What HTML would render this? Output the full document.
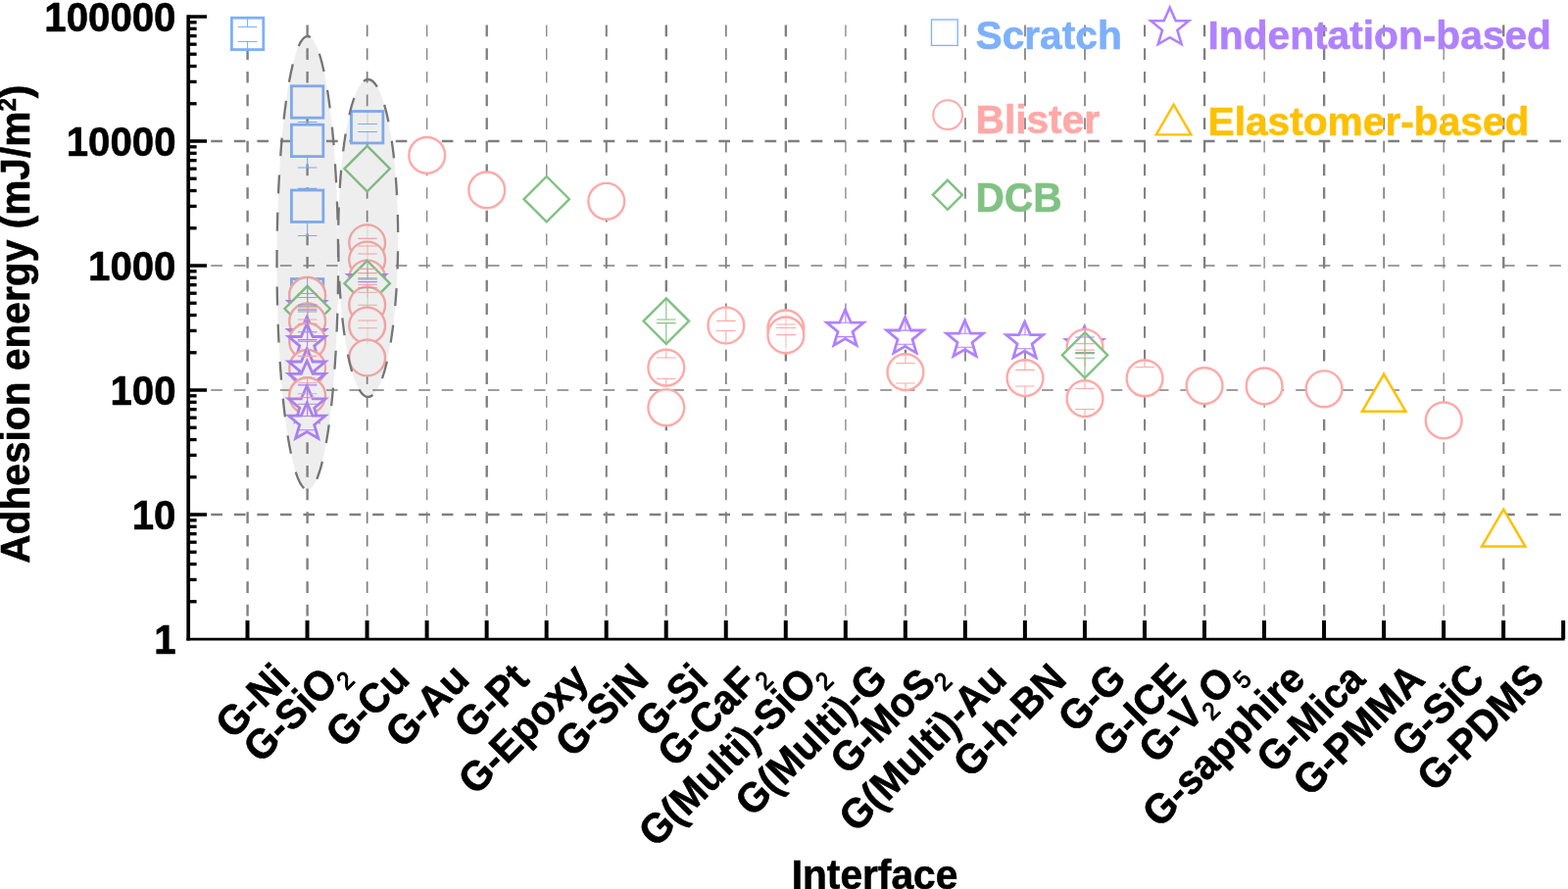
<!DOCTYPE html>
<html lang="en"><head><meta charset="utf-8"><title>Adhesion energy by interface</title>
<style>html,body{margin:0;padding:0;background:#fff}svg{display:block}</style></head>
<body>
<svg width="1600" height="907" viewBox="0 0 1600 907">
<rect width="1600" height="907" fill="#fff"/>
<g stroke="#7f7f7f" fill="none">
<path d="M252.60 25.6V652.0" stroke-dasharray="11.7 11.95" stroke-width="2.35"/>
<path d="M313.63 25.6V652.0" stroke-dasharray="11.7 11.95" stroke-width="2.35"/>
<path d="M374.66 25.6V652.0" stroke-dasharray="11.7 11.95" stroke-width="1.7"/>
<path d="M435.69 25.6V652.0" stroke-dasharray="11.7 11.95" stroke-width="1.25"/>
<path d="M496.72 25.6V652.0" stroke-dasharray="11.7 11.95" stroke-width="2.35"/>
<path d="M557.75 25.6V652.0" stroke-dasharray="11.7 11.95" stroke-width="1.25"/>
<path d="M618.78 25.6V652.0" stroke-dasharray="11.7 11.95" stroke-width="2.0"/>
<path d="M679.81 25.6V652.0" stroke-dasharray="11.7 11.95" stroke-width="2.35"/>
<path d="M740.84 25.6V652.0" stroke-dasharray="11.7 11.95" stroke-width="1.7"/>
<path d="M801.87 25.6V652.0" stroke-dasharray="11.7 11.95" stroke-width="2.35"/>
<path d="M862.90 25.6V652.0" stroke-dasharray="11.7 11.95" stroke-width="1.25"/>
<path d="M923.93 25.6V652.0" stroke-dasharray="11.7 11.95" stroke-width="2.35"/>
<path d="M984.96 25.6V652.0" stroke-dasharray="11.7 11.95" stroke-width="1.7"/>
<path d="M1045.99 25.6V652.0" stroke-dasharray="11.7 11.95" stroke-width="1.7"/>
<path d="M1107.02 25.6V652.0" stroke-dasharray="11.7 11.95" stroke-width="1.7"/>
<path d="M1168.05 25.6V652.0" stroke-dasharray="11.7 11.95" stroke-width="2.0"/>
<path d="M1229.08 25.6V652.0" stroke-dasharray="11.7 11.95" stroke-width="2.35"/>
<path d="M1290.11 25.6V652.0" stroke-dasharray="11.7 11.95" stroke-width="1.25"/>
<path d="M1351.14 25.6V652.0" stroke-dasharray="11.7 11.95" stroke-width="2.35"/>
<path d="M1412.17 25.6V652.0" stroke-dasharray="11.7 11.95" stroke-width="1.7"/>
<path d="M1473.20 25.6V652.0" stroke-dasharray="11.7 11.95" stroke-width="1.25"/>
<path d="M1534.23 25.6V652.0" stroke-dasharray="11.7 11.95" stroke-width="2.35"/>
<path d="M191.7 144.0H1594" stroke-dasharray="11.7 11.85" stroke-width="2.3"/>
<path d="M191.7 271.0H1594" stroke-dasharray="11.7 11.85" stroke-width="1.5"/>
<path d="M191.7 398.0H1594" stroke-dasharray="11.7 11.85" stroke-width="1.6"/>
<path d="M191.7 525.0H1594" stroke-dasharray="11.7 11.85" stroke-width="2.4"/>
</g>
<g stroke-linejoin="miter">
<rect x="236.40" y="18.20" width="32.40" height="32.40" fill="#fff" stroke="#7db0fd" stroke-width="2.8"/>
<rect x="297.43" y="87.80" width="32.40" height="32.40" fill="#fff" stroke="#7db0fd" stroke-width="2.8"/>
<rect x="358.46" y="113.55" width="32.40" height="32.40" fill="#fff" stroke="#7db0fd" stroke-width="2.8"/>
<rect x="297.43" y="127.20" width="32.40" height="32.40" fill="#fff" stroke="#7db0fd" stroke-width="2.8"/>
<circle cx="435.69" cy="158.40" r="18.4" fill="#fff" stroke="#ffa9a7" stroke-width="2.4"/>
<path d="M374.66 148.90L397.86 172.10L374.66 195.30L351.46 172.10Z" fill="#fff" stroke="#80c282" stroke-width="2.4"/>
<circle cx="496.72" cy="193.90" r="18.4" fill="#fff" stroke="#ffa9a7" stroke-width="2.4"/>
<path d="M557.75 180.00L580.95 203.20L557.75 226.40L534.55 203.20Z" fill="#fff" stroke="#80c282" stroke-width="2.4"/>
<circle cx="618.78" cy="205.30" r="18.4" fill="#fff" stroke="#ffa9a7" stroke-width="2.4"/>
<rect x="297.43" y="194.05" width="32.40" height="32.40" fill="#fff" stroke="#7db0fd" stroke-width="2.8"/>
<circle cx="374.66" cy="247.75" r="18.4" fill="#fff" stroke="#ffa9a7" stroke-width="2.4"/>
<circle cx="374.66" cy="265.00" r="18.4" fill="#fff" stroke="#ffa9a7" stroke-width="2.4"/>
<circle cx="374.66" cy="284.00" r="18.4" fill="#fff" stroke="#ffa9a7" stroke-width="2.4"/>
<path d="M374.26 267.20L380.16 280.40L393.06 280.40L381.76 289.70L385.86 303.50L374.26 296.80L362.66 303.50L366.76 289.70L355.46 280.40L368.36 280.40Z" fill="#fff" stroke="#b081ff" stroke-width="2.8" stroke-miterlimit="10"/>
<path d="M374.66 266.00L397.86 289.20L374.66 312.40L351.46 289.20Z" fill="#fff" stroke="#80c282" stroke-width="2.4"/>
<rect x="297.43" y="284.55" width="32.40" height="32.40" fill="#fff" stroke="#7db0fd" stroke-width="2.8"/>
<circle cx="313.63" cy="301.40" r="18.4" fill="#fff" stroke="#ffa9a7" stroke-width="2.4"/>
<circle cx="313.63" cy="301.40" r="18.4" fill="#fff" stroke="#ffa9a7" stroke-width="2.4"/>
<circle cx="374.66" cy="311.10" r="18.4" fill="#fff" stroke="#ffa9a7" stroke-width="2.4"/>
<path d="M313.23 294.10L319.13 307.30L332.03 307.30L320.73 316.60L324.83 330.40L313.23 323.70L301.63 330.40L305.73 316.60L294.43 307.30L307.33 307.30Z" fill="#fff" stroke="#b081ff" stroke-width="2.8" stroke-miterlimit="10"/>
<path d="M313.63 291.80L336.83 315.00L313.63 338.20L290.43 315.00Z" fill="#fff" stroke="#80c282" stroke-width="2.4"/>
<path d="M679.81 304.40L703.01 327.60L679.81 350.80L656.61 327.60Z" fill="#fff" stroke="#80c282" stroke-width="2.4"/>
<circle cx="313.63" cy="327.90" r="18.4" fill="#fff" stroke="#ffa9a7" stroke-width="2.4"/>
<circle cx="374.66" cy="332.00" r="18.4" fill="#fff" stroke="#ffa9a7" stroke-width="2.4"/>
<circle cx="740.84" cy="332.00" r="18.4" fill="#fff" stroke="#ffa9a7" stroke-width="2.4"/>
<circle cx="801.87" cy="334.90" r="18.4" fill="#fff" stroke="#ffa9a7" stroke-width="2.4"/>
<path d="M862.50 316.00L868.40 329.20L881.30 329.20L870.00 338.50L874.10 352.30L862.50 345.60L850.90 352.30L855.00 338.50L843.70 329.20L856.60 329.20Z" fill="#fff" stroke="#b081ff" stroke-width="2.8" stroke-miterlimit="10"/>
<circle cx="801.87" cy="341.90" r="18.4" fill="#fff" stroke="#ffa9a7" stroke-width="2.4"/>
<path d="M313.23 323.30L319.13 336.50L332.03 336.50L320.73 345.80L324.83 359.60L313.23 352.90L301.63 359.60L305.73 345.80L294.43 336.50L307.33 336.50Z" fill="#fff" stroke="#b081ff" stroke-width="2.8" stroke-miterlimit="10"/>
<path d="M923.53 323.80L929.43 337.00L942.33 337.00L931.03 346.30L935.13 360.10L923.53 353.40L911.93 360.10L916.03 346.30L904.73 337.00L917.63 337.00Z" fill="#fff" stroke="#b081ff" stroke-width="2.8" stroke-miterlimit="10"/>
<path d="M984.56 327.00L990.46 340.20L1003.36 340.20L992.06 349.50L996.16 363.30L984.56 356.60L972.96 363.30L977.06 349.50L965.76 340.20L978.66 340.20Z" fill="#fff" stroke="#b081ff" stroke-width="2.8" stroke-miterlimit="10"/>
<circle cx="313.63" cy="348.20" r="18.4" fill="#fff" stroke="#ffa9a7" stroke-width="2.4"/>
<path d="M1045.59 328.40L1051.49 341.60L1064.39 341.60L1053.09 350.90L1057.19 364.70L1045.59 358.00L1033.99 364.70L1038.09 350.90L1026.79 341.60L1039.69 341.60Z" fill="#fff" stroke="#b081ff" stroke-width="2.8" stroke-miterlimit="10"/>
<path d="M313.23 330.30L319.13 343.50L332.03 343.50L320.73 352.80L324.83 366.60L313.23 359.90L301.63 366.60L305.73 352.80L294.43 343.50L307.33 343.50Z" fill="#fff" stroke="#b081ff" stroke-width="2.8" stroke-miterlimit="10"/>
<path d="M1106.62 333.20L1112.52 346.40L1125.42 346.40L1114.12 355.70L1118.22 369.50L1106.62 362.80L1095.02 369.50L1099.12 355.70L1087.82 346.40L1100.72 346.40Z" fill="#fff" stroke="#b081ff" stroke-width="2.8" stroke-miterlimit="10"/>
<circle cx="1107.02" cy="354.50" r="18.4" fill="#fff" stroke="#ffa9a7" stroke-width="2.4"/>
<path d="M1107.02 339.10L1130.22 362.30L1107.02 385.50L1083.82 362.30Z" fill="#fff" stroke="#80c282" stroke-width="2.4"/>
<circle cx="374.66" cy="365.00" r="18.4" fill="#fff" stroke="#ffa9a7" stroke-width="2.4"/>
<circle cx="679.81" cy="375.10" r="18.4" fill="#fff" stroke="#ffa9a7" stroke-width="2.4"/>
<circle cx="313.63" cy="375.40" r="18.4" fill="#fff" stroke="#ffa9a7" stroke-width="2.4"/>
<path d="M313.23 355.80L319.13 369.00L332.03 369.00L320.73 378.30L324.83 392.10L313.23 385.40L301.63 392.10L305.73 378.30L294.43 369.00L307.33 369.00Z" fill="#fff" stroke="#b081ff" stroke-width="2.8" stroke-miterlimit="10"/>
<circle cx="923.93" cy="379.70" r="18.4" fill="#fff" stroke="#ffa9a7" stroke-width="2.4"/>
<circle cx="1045.99" cy="385.70" r="18.4" fill="#fff" stroke="#ffa9a7" stroke-width="2.4"/>
<circle cx="1168.05" cy="385.90" r="18.4" fill="#fff" stroke="#ffa9a7" stroke-width="2.4"/>
<path d="M313.23 368.10L319.13 381.30L332.03 381.30L320.73 390.60L324.83 404.40L313.23 397.70L301.63 404.40L305.73 390.60L294.43 381.30L307.33 381.30Z" fill="#fff" stroke="#b081ff" stroke-width="2.8" stroke-miterlimit="10"/>
<circle cx="1229.08" cy="393.60" r="18.4" fill="#fff" stroke="#ffa9a7" stroke-width="2.4"/>
<circle cx="1290.11" cy="393.90" r="18.4" fill="#fff" stroke="#ffa9a7" stroke-width="2.4"/>
<circle cx="1351.14" cy="396.80" r="18.4" fill="#fff" stroke="#ffa9a7" stroke-width="2.4"/>
<path d="M1412.17 381.80L1434.37 419.70L1389.97 419.70Z" fill="#fff" stroke="#ffc000" stroke-width="2.5" stroke-miterlimit="10"/>
<circle cx="313.63" cy="403.60" r="18.4" fill="#fff" stroke="#ffa9a7" stroke-width="2.4"/>
<circle cx="1107.02" cy="406.70" r="18.4" fill="#fff" stroke="#ffa9a7" stroke-width="2.4"/>
<path d="M313.23 393.70L319.13 406.90L332.03 406.90L320.73 416.20L324.83 430.00L313.23 423.30L301.63 430.00L305.73 416.20L294.43 406.90L307.33 406.90Z" fill="#fff" stroke="#b081ff" stroke-width="2.8" stroke-miterlimit="10"/>
<circle cx="679.81" cy="415.80" r="18.4" fill="#fff" stroke="#ffa9a7" stroke-width="2.4"/>
<circle cx="1473.20" cy="428.90" r="18.4" fill="#fff" stroke="#ffa9a7" stroke-width="2.4"/>
<path d="M313.23 411.00L319.13 424.20L332.03 424.20L320.73 433.50L324.83 447.30L313.23 440.60L301.63 447.30L305.73 433.50L294.43 424.20L307.33 424.20Z" fill="#fff" stroke="#b081ff" stroke-width="2.8" stroke-miterlimit="10"/>
<path d="M1534.23 519.60L1556.43 557.50L1512.03 557.50Z" fill="#fff" stroke="#ffc000" stroke-width="2.5" stroke-miterlimit="10"/>
</g>
<g fill="none" stroke-width="1.1">
<path d="M252.60 27.50V16.80M252.60 42.50V52.00M242.80 27.50H262.40M242.80 42.50H262.40" stroke="#7db0fd"/>
<path d="M375.00 126.50V112.15M375.00 134.50V147.35" stroke="#7db0fd" stroke-opacity="0.45"/><path d="M365.20 126.50H384.80M365.20 134.50H384.80" stroke="#7db0fd"/>
<path d="M313.63 124.50V125.80M313.63 171.00V161.00M303.83 124.50H323.43M303.83 171.00H323.43" stroke="#7db0fd"/>
<path d="M313.63 192.40V192.65M313.63 240.50V227.85M303.83 192.40H323.43M303.83 240.50H323.43" stroke="#7db0fd"/>
<path d="M375.00 243.40V228.15M375.00 251.00V267.35" stroke="#ffa9a7" stroke-opacity="0.45"/><path d="M365.20 243.40H384.80M365.20 251.00H384.80" stroke="#ffa9a7"/>
<path d="M375.00 259.00V245.40M375.00 274.40V284.60" stroke="#ffa9a7" stroke-opacity="0.45"/><path d="M365.20 259.00H384.80M365.20 274.40H384.80" stroke="#ffa9a7"/>
<path d="M375.00 278.60V264.40M375.00 290.50V303.60" stroke="#ffa9a7" stroke-opacity="0.45"/><path d="M365.20 278.60H384.80M365.20 290.50H384.80" stroke="#ffa9a7"/>
<path d="M375.00 285.00V265.20M375.00 287.60V296.80" stroke="#b081ff" stroke-opacity="0.45"/><path d="M365.20 285.00H384.80M365.20 287.60H384.80" stroke="#b081ff"/>
<path d="M375.00 283.70V264.60M375.00 293.80V313.80" stroke="#80c282" stroke-opacity="0.45"/><path d="M365.20 283.70H384.80M365.20 293.80H384.80" stroke="#80c282"/>
<path d="M313.63 299.50V283.15M313.63 303.50V318.35M303.83 299.50H323.43M303.83 303.50H323.43" stroke="#7db0fd"/>
<path d="M313.63 313.70V321.00M303.83 313.70H323.43" stroke="#ffa9a7"/>
<path d="M313.63 315.30V321.00M303.83 315.30H323.43" stroke="#ffa9a7"/>
<path d="M375.00 298.20V291.50M375.00 327.00V330.70" stroke="#ffa9a7" stroke-opacity="0.45"/><path d="M365.20 298.20H384.80M365.20 327.00H384.80" stroke="#ffa9a7"/>
<path d="M313.63 311.00V292.10M313.63 316.30V323.70M303.83 311.00H323.43M303.83 316.30H323.43" stroke="#b081ff"/>
<path d="M313.63 312.30V290.40M313.63 318.00V339.60M303.83 312.30H323.43M303.83 318.00H323.43" stroke="#80c282"/>
<path d="M679.81 326.00V303.00M679.81 329.60V352.20M670.01 326.00H689.61M670.01 329.60H689.61" stroke="#80c282"/>
<path d="M313.63 326.00V308.30M313.63 330.40V347.50M303.83 326.00H323.43M303.83 330.40H323.43" stroke="#ffa9a7"/>
<path d="M375.00 311.20V312.40M375.00 334.80V351.60" stroke="#ffa9a7" stroke-opacity="0.45"/><path d="M365.20 311.20H384.80M365.20 334.80H384.80" stroke="#ffa9a7"/>
<path d="M740.84 327.40V312.40M740.84 337.50V351.60M731.04 327.40H750.64M731.04 337.50H750.64" stroke="#ffa9a7"/>
<path d="M802.00 331.00V315.30M802.00 334.50V354.50" stroke="#ffa9a7" stroke-opacity="0.45"/><path d="M792.20 331.00H811.80M792.20 334.50H811.80" stroke="#ffa9a7"/>
<path d="M862.90 329.30V314.00M862.90 343.60V345.60M853.10 329.30H872.70M853.10 343.60H872.70" stroke="#b081ff"/>
<path d="M802.00 334.50V322.30M802.00 341.60V361.50" stroke="#ffa9a7" stroke-opacity="0.45"/><path d="M792.20 334.50H811.80M792.20 341.60H811.80" stroke="#ffa9a7"/>
<path d="M313.63 338.80V321.30M313.63 348.20V352.90M303.83 338.80H323.43M303.83 348.20H323.43" stroke="#b081ff"/>
<path d="M923.93 337.10V321.80M923.93 351.20V353.40M914.13 337.10H933.73M914.13 351.20H933.73" stroke="#b081ff"/>
<path d="M984.96 340.30V325.00M984.96 354.20V356.60M975.16 340.30H994.76M975.16 354.20H994.76" stroke="#b081ff"/>
<path d="M1045.99 341.70V326.40M1045.99 355.80V358.00M1036.19 341.70H1055.79M1036.19 355.80H1055.79" stroke="#b081ff"/>
<path d="M313.63 346.60V328.30M303.83 346.60H323.43" stroke="#b081ff"/>
<path d="M1107.02 344.00V331.20M1107.02 360.60V362.80M1097.22 344.00H1116.82M1097.22 360.60H1116.82" stroke="#b081ff"/>
<path d="M1107.02 350.60V334.90M1107.02 357.10V374.10M1097.22 350.60H1116.82M1097.22 357.10H1116.82" stroke="#ffa9a7"/>
<path d="M1107.02 359.60V337.70M1107.02 365.20V386.90M1097.22 359.60H1116.82M1097.22 365.20H1116.82" stroke="#80c282"/>
<path d="M679.81 365.00V355.50M679.81 386.50V394.70M670.01 365.00H689.61M670.01 386.50H689.61" stroke="#ffa9a7"/>
<path d="M313.63 363.40V355.80M313.63 390.80V395.00M303.83 363.40H323.43M303.83 390.80H323.43" stroke="#ffa9a7"/>
<path d="M923.93 370.50V360.10M923.93 391.00V399.30M914.13 370.50H933.73M914.13 391.00H933.73" stroke="#ffa9a7"/>
<path d="M1045.99 377.40V366.10M1045.99 394.00V405.30M1036.19 377.40H1055.79M1036.19 394.00H1055.79" stroke="#ffa9a7"/>
<path d="M1168.05 374.50V366.30M1168.05 403.30V405.50M1158.25 374.50H1177.85M1158.25 403.30H1177.85" stroke="#ffa9a7"/>
<path d="M313.63 392.90V397.70M303.83 392.90H323.43" stroke="#b081ff"/>
<path d="M313.63 401.70V384.00M313.63 405.60V423.20M303.83 401.70H323.43M303.83 405.60H323.43" stroke="#ffa9a7"/>
<path d="M1107.02 396.50V387.10M1107.02 417.50V426.30M1097.22 396.50H1116.82M1097.22 417.50H1116.82" stroke="#ffa9a7"/>
<path d="M313.63 412.30V391.70M303.83 412.30H323.43" stroke="#b081ff"/>
<path d="M313.63 424.50V409.00M313.63 438.80V440.60M303.83 424.50H323.43M303.83 438.80H323.43" stroke="#b081ff"/>
</g>
<g fill="rgba(128,128,128,0.135)" stroke="#757575" stroke-width="2.3">
<path d="M313.83 37.00A31.3 231.3 0 0 1 313.83 499.60A31.3 231.3 0 0 1 313.83 37.00Z" stroke-dasharray="18.8 19.22" stroke-dashoffset="15.5"/>
<path d="M375.66 81.00A30.5 162 0 0 1 375.66 405.00A30.5 162 0 0 1 375.66 81.00Z" stroke-dasharray="18.0 19.64" stroke-dashoffset="5.4"/>
</g>
<g stroke="#000" fill="none">
<path d="M192.2 15.2V653.6" stroke-width="3.7"/>
<path d="M190.39999999999998 652.15H1596.6" stroke-width="2.8"/>
<path d="M192.2 17.00H211" stroke-width="3.5"/>
<path d="M192.2 105.77H200.6" stroke-width="3.3"/>
<path d="M192.2 83.41H200.6" stroke-width="3.3"/>
<path d="M192.2 67.54H200.6" stroke-width="3.3"/>
<path d="M192.2 55.23H200.6" stroke-width="3.3"/>
<path d="M192.2 45.17H200.6" stroke-width="3.3"/>
<path d="M192.2 36.67H200.6" stroke-width="3.3"/>
<path d="M192.2 29.31H200.6" stroke-width="3.3"/>
<path d="M192.2 22.81H200.6" stroke-width="3.3"/>
<path d="M192.2 144.00H211" stroke-width="3.5"/>
<path d="M192.2 232.77H200.6" stroke-width="3.3"/>
<path d="M192.2 210.41H200.6" stroke-width="3.3"/>
<path d="M192.2 194.54H200.6" stroke-width="3.3"/>
<path d="M192.2 182.23H200.6" stroke-width="3.3"/>
<path d="M192.2 172.17H200.6" stroke-width="3.3"/>
<path d="M192.2 163.67H200.6" stroke-width="3.3"/>
<path d="M192.2 156.31H200.6" stroke-width="3.3"/>
<path d="M192.2 149.81H200.6" stroke-width="3.3"/>
<path d="M192.2 271.00H211" stroke-width="3.5"/>
<path d="M192.2 359.77H200.6" stroke-width="3.3"/>
<path d="M192.2 337.41H200.6" stroke-width="3.3"/>
<path d="M192.2 321.54H200.6" stroke-width="3.3"/>
<path d="M192.2 309.23H200.6" stroke-width="3.3"/>
<path d="M192.2 299.17H200.6" stroke-width="3.3"/>
<path d="M192.2 290.67H200.6" stroke-width="3.3"/>
<path d="M192.2 283.31H200.6" stroke-width="3.3"/>
<path d="M192.2 276.81H200.6" stroke-width="3.3"/>
<path d="M192.2 398.00H211" stroke-width="3.5"/>
<path d="M192.2 486.77H200.6" stroke-width="3.3"/>
<path d="M192.2 464.41H200.6" stroke-width="3.3"/>
<path d="M192.2 448.54H200.6" stroke-width="3.3"/>
<path d="M192.2 436.23H200.6" stroke-width="3.3"/>
<path d="M192.2 426.17H200.6" stroke-width="3.3"/>
<path d="M192.2 417.67H200.6" stroke-width="3.3"/>
<path d="M192.2 410.31H200.6" stroke-width="3.3"/>
<path d="M192.2 403.81H200.6" stroke-width="3.3"/>
<path d="M192.2 525.00H211" stroke-width="3.5"/>
<path d="M192.2 613.77H200.6" stroke-width="3.3"/>
<path d="M192.2 591.41H200.6" stroke-width="3.3"/>
<path d="M192.2 575.54H200.6" stroke-width="3.3"/>
<path d="M192.2 563.23H200.6" stroke-width="3.3"/>
<path d="M192.2 553.17H200.6" stroke-width="3.3"/>
<path d="M192.2 544.67H200.6" stroke-width="3.3"/>
<path d="M192.2 537.31H200.6" stroke-width="3.3"/>
<path d="M192.2 530.81H200.6" stroke-width="3.3"/>
<path d="M252.50 652.0V633" stroke-width="4"/>
<path d="M313.53 652.0V633" stroke-width="4"/>
<path d="M374.56 652.0V633" stroke-width="4"/>
<path d="M435.59 652.0V633" stroke-width="4"/>
<path d="M496.62 652.0V633" stroke-width="4"/>
<path d="M557.65 652.0V633" stroke-width="4"/>
<path d="M618.68 652.0V633" stroke-width="4"/>
<path d="M679.71 652.0V633" stroke-width="4"/>
<path d="M740.74 652.0V633" stroke-width="4"/>
<path d="M801.77 652.0V633" stroke-width="4"/>
<path d="M862.80 652.0V633" stroke-width="4"/>
<path d="M923.83 652.0V633" stroke-width="4"/>
<path d="M984.86 652.0V633" stroke-width="4"/>
<path d="M1045.89 652.0V633" stroke-width="4"/>
<path d="M1106.92 652.0V633" stroke-width="4"/>
<path d="M1167.95 652.0V633" stroke-width="4"/>
<path d="M1228.98 652.0V633" stroke-width="4"/>
<path d="M1290.01 652.0V633" stroke-width="4"/>
<path d="M1351.04 652.0V633" stroke-width="4"/>
<path d="M1412.07 652.0V633" stroke-width="4"/>
<path d="M1473.10 652.0V633" stroke-width="4"/>
<path d="M1534.13 652.0V633" stroke-width="4"/>
<path d="M1595.16 652.0V633" stroke-width="4"/>
</g>
<g font-family="Liberation Sans, sans-serif" font-weight="bold">
<rect x="950.5" y="20" width="26.7" height="26.4" fill="#fff" stroke="#7db0fd" stroke-width="1.3"/>
<path d="M1193.70 7.77L1199.76 21.32L1212.99 21.32L1201.40 30.87L1205.61 45.03L1193.70 38.15L1181.79 45.03L1186.00 30.87L1174.41 21.32L1187.64 21.32Z" fill="#fff" stroke="#b081ff" stroke-width="2.6" stroke-miterlimit="10"/>
<circle cx="967.2" cy="117.2" r="14.9" fill="#fff" stroke="#ffa9a7" stroke-width="2"/>
<path d="M1197.60 106.60L1215.40 137.40L1179.80 137.40Z" fill="#fff" stroke="#ffc000" stroke-width="2.4" stroke-miterlimit="10"/>
<path d="M966.90 183.85L981.90 198.85L966.90 213.85L951.90 198.85Z" fill="#fff" stroke="#80c282" stroke-width="2.5"/>
<text transform="translate(995.50 49.80) scale(0.988 1)" text-anchor="start" fill="#7db0fd" stroke="#7db0fd" stroke-width="0.6" stroke-linejoin="round" font-size="41.2">Scratch</text>
<text transform="translate(1232.50 49.70) scale(0.988 1)" text-anchor="start" fill="#b081ff" stroke="#b081ff" stroke-width="0.6" stroke-linejoin="round" font-size="41.2">Indentation-based</text>
<text transform="translate(995.50 136.00) scale(0.988 1)" text-anchor="start" fill="#ffa9a7" stroke="#ffa9a7" stroke-width="0.6" stroke-linejoin="round" font-size="41.2">Blister</text>
<text transform="translate(1232.50 138.00) scale(0.988 1)" text-anchor="start" fill="#ffc000" stroke="#ffc000" stroke-width="0.6" stroke-linejoin="round" font-size="41.2">Elastomer-based</text>
<text transform="translate(995.50 215.90) scale(0.9465 1)" text-anchor="start" fill="#80c282" stroke="#80c282" stroke-width="0.6" stroke-linejoin="round" font-size="43.0">DCB</text>
</g>
<g font-family="Liberation Sans, sans-serif" font-weight="bold">
<text transform="translate(179.50 32.00) scale(0.96 1)" text-anchor="end" fill="#000" stroke="#000" stroke-width="0.6" stroke-linejoin="round" font-size="41.9">100000</text>
<text transform="translate(179.50 159.00) scale(0.96 1)" text-anchor="end" fill="#000" stroke="#000" stroke-width="0.6" stroke-linejoin="round" font-size="41.9">10000</text>
<text transform="translate(179.50 286.00) scale(0.96 1)" text-anchor="end" fill="#000" stroke="#000" stroke-width="0.6" stroke-linejoin="round" font-size="41.9">1000</text>
<text transform="translate(179.50 413.00) scale(0.96 1)" text-anchor="end" fill="#000" stroke="#000" stroke-width="0.6" stroke-linejoin="round" font-size="41.9">100</text>
<text transform="translate(179.50 540.00) scale(0.96 1)" text-anchor="end" fill="#000" stroke="#000" stroke-width="0.6" stroke-linejoin="round" font-size="41.9">10</text>
<text transform="translate(179.50 667.00) scale(0.96 1)" text-anchor="end" fill="#000" stroke="#000" stroke-width="0.6" stroke-linejoin="round" font-size="41.9">1</text>
<text transform="translate(30.40 330.70) rotate(-90) scale(0.962 1)" text-anchor="middle" fill="#000" stroke="#000" stroke-width="0.6" stroke-linejoin="round" font-size="42.3">Adhesion energy (mJ/m<tspan font-size="25" dy="-14">2</tspan><tspan dy="14">)</tspan></text>
<text transform="translate(892.50 907.40) scale(0.962 1)" text-anchor="middle" fill="#000" stroke="#000" stroke-width="0.6" stroke-linejoin="round" font-size="42.3">Interface</text>
<text transform="translate(297.85 695.00) rotate(-45) scale(0.955 1)" text-anchor="end" fill="#000" stroke="#000" stroke-width="0.6" stroke-linejoin="round" font-size="42.3">G-Ni</text>
<text transform="translate(356.50 689.10) rotate(-45) scale(0.955 1)" text-anchor="end" fill="#000" stroke="#000" stroke-width="0.6" stroke-linejoin="round" font-size="42.3">G-SiO<tspan font-size="25" font-weight="normal" stroke="#000" stroke-width="1.1" dx="0.4" dy="9.3">2</tspan></text>
<text transform="translate(419.75 695.00) rotate(-45) scale(0.955 1)" text-anchor="end" fill="#000" stroke="#000" stroke-width="0.6" stroke-linejoin="round" font-size="42.3">G-Cu</text>
<text transform="translate(480.70 695.00) rotate(-45) scale(0.955 1)" text-anchor="end" fill="#000" stroke="#000" stroke-width="0.6" stroke-linejoin="round" font-size="42.3">G-Au</text>
<text transform="translate(541.65 695.00) rotate(-45) scale(0.955 1)" text-anchor="end" fill="#000" stroke="#000" stroke-width="0.6" stroke-linejoin="round" font-size="42.3">G-Pt</text>
<text transform="translate(602.60 695.00) rotate(-45) scale(0.955 1)" text-anchor="end" fill="#000" stroke="#000" stroke-width="0.6" stroke-linejoin="round" font-size="42.3">G-Epoxy</text>
<text transform="translate(663.55 695.00) rotate(-45) scale(0.955 1)" text-anchor="end" fill="#000" stroke="#000" stroke-width="0.6" stroke-linejoin="round" font-size="42.3">G-SiN</text>
<text transform="translate(724.50 695.00) rotate(-45) scale(0.955 1)" text-anchor="end" fill="#000" stroke="#000" stroke-width="0.6" stroke-linejoin="round" font-size="42.3">G-Si</text>
<text transform="translate(783.85 689.00) rotate(-45) scale(0.955 1)" text-anchor="end" fill="#000" stroke="#000" stroke-width="0.6" stroke-linejoin="round" font-size="42.3">G-CaF<tspan font-size="25" font-weight="normal" stroke="#000" stroke-width="1.1" dx="0.4" dy="9.3">2</tspan></text>
<text transform="translate(845.40 689.50) rotate(-45) scale(0.955 1)" text-anchor="end" fill="#000" stroke="#000" stroke-width="0.6" stroke-linejoin="round" font-size="42.3">G(Multi)-SiO<tspan font-size="25" font-weight="normal" stroke="#000" stroke-width="1.1" dx="0.4" dy="9.3">2</tspan></text>
<text transform="translate(907.35 695.00) rotate(-45) scale(0.955 1)" text-anchor="end" fill="#000" stroke="#000" stroke-width="0.6" stroke-linejoin="round" font-size="42.3">G(Multi)-G</text>
<text transform="translate(966.40 690.00) rotate(-45) scale(0.955 1)" text-anchor="end" fill="#000" stroke="#000" stroke-width="0.6" stroke-linejoin="round" font-size="42.3">G-MoS<tspan font-size="25" font-weight="normal" stroke="#000" stroke-width="1.1" dx="0.4" dy="9.3">2</tspan></text>
<text transform="translate(1029.25 695.00) rotate(-45) scale(0.955 1)" text-anchor="end" fill="#000" stroke="#000" stroke-width="0.6" stroke-linejoin="round" font-size="42.3">G(Multi)-Au</text>
<text transform="translate(1090.20 695.00) rotate(-45) scale(0.955 1)" text-anchor="end" fill="#000" stroke="#000" stroke-width="0.6" stroke-linejoin="round" font-size="42.3">G-h-BN</text>
<text transform="translate(1151.15 695.00) rotate(-45) scale(0.955 1)" text-anchor="end" fill="#000" stroke="#000" stroke-width="0.6" stroke-linejoin="round" font-size="42.3">G-G</text>
<text transform="translate(1212.10 695.00) rotate(-45) scale(0.955 1)" text-anchor="end" fill="#000" stroke="#000" stroke-width="0.6" stroke-linejoin="round" font-size="42.3">G-ICE</text>
<text transform="translate(1271.75 688.10) rotate(-45) scale(0.955 1)" text-anchor="end" fill="#000" stroke="#000" stroke-width="0.6" stroke-linejoin="round" font-size="42.3">G-V<tspan font-size="25" font-weight="normal" stroke="#000" stroke-width="1.1" dx="0.4" dy="9.3">2</tspan><tspan dy="-9.3">O</tspan><tspan font-size="25" font-weight="normal" stroke="#000" stroke-width="1.1" dx="0.4" dy="9.3">5</tspan></text>
<text transform="translate(1334.00 695.00) rotate(-45) scale(0.955 1)" text-anchor="end" fill="#000" stroke="#000" stroke-width="0.6" stroke-linejoin="round" font-size="42.3">G-sapphire</text>
<text transform="translate(1394.95 695.00) rotate(-45) scale(0.955 1)" text-anchor="end" fill="#000" stroke="#000" stroke-width="0.6" stroke-linejoin="round" font-size="42.3">G-Mica</text>
<text transform="translate(1455.90 695.00) rotate(-45) scale(0.955 1)" text-anchor="end" fill="#000" stroke="#000" stroke-width="0.6" stroke-linejoin="round" font-size="42.3">G-PMMA</text>
<text transform="translate(1516.85 695.00) rotate(-45) scale(0.955 1)" text-anchor="end" fill="#000" stroke="#000" stroke-width="0.6" stroke-linejoin="round" font-size="42.3">G-SiC</text>
<text transform="translate(1577.80 695.00) rotate(-45) scale(0.955 1)" text-anchor="end" fill="#000" stroke="#000" stroke-width="0.6" stroke-linejoin="round" font-size="42.3">G-PDMS</text>
</g>
</svg>
</body></html>
